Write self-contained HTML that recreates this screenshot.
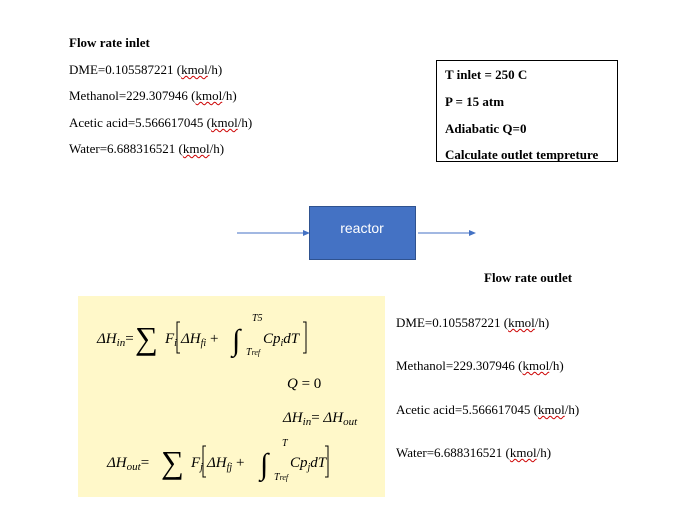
<!DOCTYPE html>
<html><head><meta charset="utf-8"><style>
body{margin:0;width:674px;height:511px;background:#fff;position:relative;overflow:hidden;font-family:"Liberation Serif",serif;font-size:13px;color:#000}
.t{position:absolute;white-space:nowrap}
.b{font-weight:bold}
.u{text-decoration:underline wavy #c00;text-decoration-thickness:1px}
</style></head><body>
<div class="t b" style="left:69px;top:35px">Flow rate inlet</div>
<div class="t" style="left:69px;top:62px">DME=0.105587221 (<span class="u">kmol</span>/h)</div>
<div class="t" style="left:69px;top:88px">Methanol=229.307946 (<span class="u">kmol</span>/h)</div>
<div class="t" style="left:69px;top:115px">Acetic acid=5.566617045 (<span class="u">kmol</span>/h)</div>
<div class="t" style="left:69px;top:141px">Water=6.688316521 (<span class="u">kmol</span>/h)</div>

<div style="position:absolute;left:436px;top:60px;width:180px;height:100px;border:1px solid #000;overflow:hidden">
<div class="t b" style="left:8px;top:6px">T inlet = 250 C</div>
<div class="t b" style="left:8px;top:33px">P = 15 atm</div>
<div class="t b" style="left:8px;top:60px">Adiabatic Q=0</div>
<div class="t b" style="left:8px;top:86px">Calculate outlet tempreture</div>
</div>

<div style="position:absolute;left:78px;top:296px;width:307px;height:201px;background:#fff8c9"></div>

<svg style="position:absolute;left:0;top:0" width="674" height="511" font-family="Liberation Serif,serif" font-size="15">
<line x1="237" y1="233" x2="306" y2="233" stroke="#4472c4" stroke-width="1"/>
<polygon points="310,233 303,230 303,236" fill="#4472c4"/>
<line x1="418" y1="233" x2="472" y2="233" stroke="#4472c4" stroke-width="1"/>
<polygon points="476,233 469,230 469,236" fill="#4472c4"/>
<rect x="309.5" y="206.5" width="106" height="53" fill="#4472c4" stroke="#2f528f"/>
<text x="362" y="233" fill="#fff" font-family="Liberation Sans,sans-serif" font-size="14" text-anchor="middle">reactor</text>

<text x="97" y="343" font-style="italic">ΔH<tspan font-size="11" dy="3">in</tspan><tspan dy="-3" font-style="normal">=</tspan></text>
<text x="135" y="349" font-size="32">∑</text>
<text x="165" y="343" font-style="italic">F<tspan font-size="10" dy="3">i</tspan></text>
<path d="M180,322 h-3 v31 h3" fill="none" stroke="#000"/>
<text x="181" y="343" font-style="italic">ΔH<tspan font-size="10" dy="3">fi</tspan><tspan dy="-3" font-style="normal"> +</tspan></text>
<text x="232" y="350" font-size="30" font-style="italic">∫</text>
<text x="252" y="321" font-size="10" font-style="italic">T5</text>
<text x="246" y="355" font-size="10" font-style="italic">T<tspan font-size="8">ref</tspan></text>
<text x="263" y="343" font-style="italic">Cp<tspan font-size="10" dy="3">i</tspan><tspan dy="-3">dT</tspan></text>
<path d="M303,322 h3 v31 h-3" fill="none" stroke="#000"/>

<text x="287" y="388" font-style="italic">Q <tspan font-style="normal">= 0</tspan></text>
<text x="283" y="422" font-style="italic">ΔH<tspan font-size="11" dy="3">in</tspan><tspan dy="-3" font-style="normal">= </tspan>ΔH<tspan font-size="11" dy="3">out</tspan></text>

<text x="107" y="467" font-style="italic">ΔH<tspan font-size="11" dy="3">out</tspan><tspan dy="-3" font-style="normal">=</tspan></text>
<text x="161" y="473" font-size="32">∑</text>
<text x="191" y="467" font-style="italic">F<tspan font-size="10" dy="3">j</tspan></text>
<path d="M206,446 h-3 v31 h3" fill="none" stroke="#000"/>
<text x="207" y="467" font-style="italic">ΔH<tspan font-size="10" dy="3">fj</tspan><tspan dy="-3" font-style="normal"> +</tspan></text>
<text x="260" y="474" font-size="30" font-style="italic">∫</text>
<text x="282" y="446" font-size="10" font-style="italic">T</text>
<text x="274" y="480" font-size="10" font-style="italic">T<tspan font-size="8">ref</tspan></text>
<text x="290" y="467" font-style="italic">Cp<tspan font-size="10" dy="3">j</tspan><tspan dy="-3">dT</tspan></text>
<path d="M325,446 h3 v31 h-3" fill="none" stroke="#000"/>
</svg>

<div class="t b" style="left:484px;top:270px">Flow rate outlet</div>
<div class="t" style="left:396px;top:315px">DME=0.105587221 (<span class="u">kmol</span>/h)</div>
<div class="t" style="left:396px;top:358px">Methanol=229.307946 (<span class="u">kmol</span>/h)</div>
<div class="t" style="left:396px;top:402px">Acetic acid=5.566617045 (<span class="u">kmol</span>/h)</div>
<div class="t" style="left:396px;top:445px">Water=6.688316521 (<span class="u">kmol</span>/h)</div>
</body></html>
